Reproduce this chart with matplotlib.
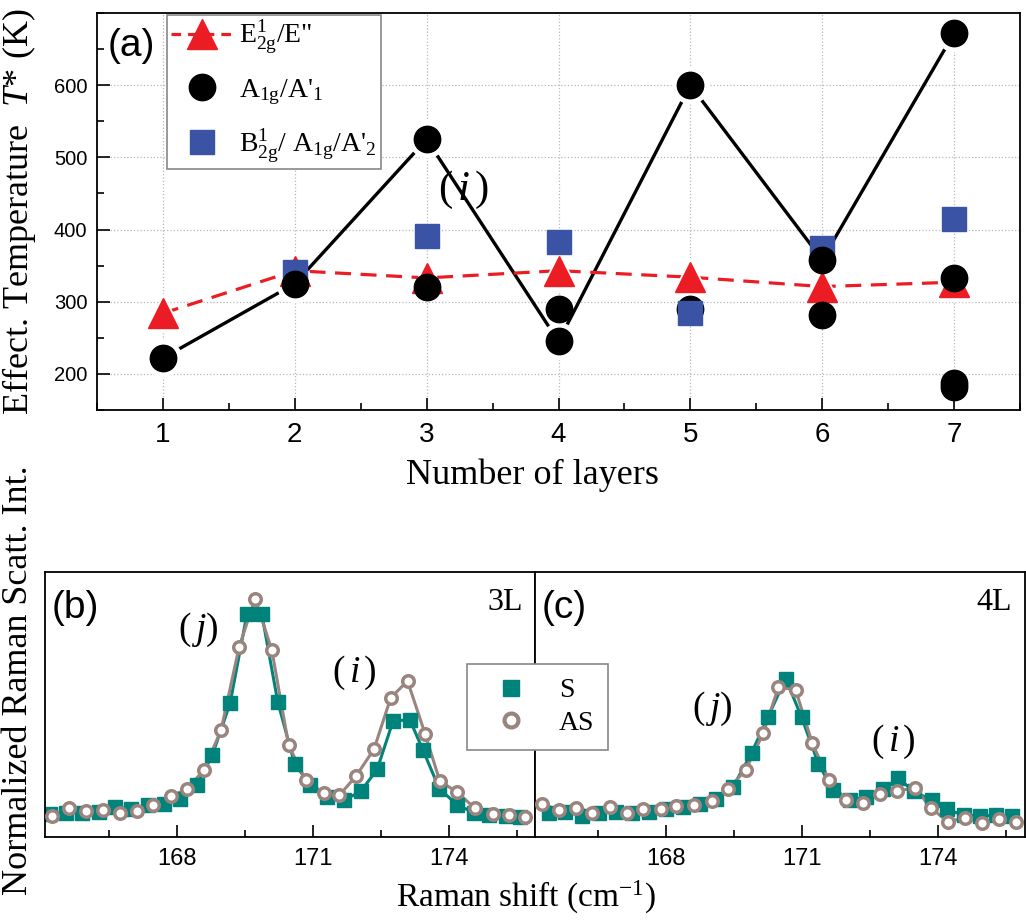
import matplotlib
matplotlib.use('Agg')
import matplotlib.pyplot as plt
from matplotlib.lines import Line2D
from matplotlib.ticker import MultipleLocator, NullLocator

plt.rcParams['font.family'] = ['Liberation Serif', 'DejaVu Serif']
plt.rcParams['mathtext.fontset'] = 'custom'
plt.rcParams['mathtext.rm'] = 'Liberation Serif'
plt.rcParams['mathtext.it'] = 'Liberation Serif:italic'
plt.rcParams['mathtext.bf'] = 'Liberation Serif:bold'
SANS = 'Liberation Sans'

# ---- panel (a): effective temperature vs number of layers ----
layers = [1, 2, 3, 4, 5, 6, 7]
t_e2g = [284, 343, 333, 343, 334, 321, 327]
t_a1g = [222, 325, 525, 245, 600, 358, 672]
extra_layers = [3, 4, 5, 6, 7, 7, 7]
extra_a1g = [320, 290, 290, 282, 333, 188, 182]
b2g_layers = [2, 3, 4, 5, 6, 7]
t_b2g = [341, 391, 383, 285, 374, 414]

# ---- panel (b): 3L Stokes / anti-Stokes spectra ----
s3_x = [165.20, 165.56, 165.92, 166.28, 166.64, 167.00, 167.36, 167.72, 168.08,
        168.44, 168.79, 169.18, 169.55, 169.88, 170.23, 170.60, 170.95, 171.32,
        171.69, 172.06, 172.42, 172.77, 173.14, 173.43, 173.79, 174.19, 174.56,
        174.89, 175.26, 175.56]
s3_y = [0.085, 0.090, 0.092, 0.095, 0.115, 0.105, 0.122, 0.125, 0.145,
        0.195, 0.310, 0.505, 0.840, 0.840, 0.510, 0.277, 0.195, 0.151,
        0.139, 0.172, 0.255, 0.437, 0.443, 0.328, 0.183, 0.120, 0.092,
        0.082, 0.080, 0.075]
as3_x = [165.26, 165.62, 166.01, 166.38, 166.75, 167.12, 167.48, 167.87, 168.22,
         168.60, 168.98, 169.38, 169.73, 170.10, 170.47, 170.85, 171.24, 171.59,
         171.96, 172.35, 172.72, 173.09, 173.48, 173.80, 174.19, 174.58, 174.97,
         175.32, 175.69]
as3_y = [0.079, 0.110, 0.098, 0.103, 0.092, 0.098, 0.122, 0.154, 0.180,
         0.252, 0.403, 0.718, 0.900, 0.705, 0.346, 0.214, 0.166, 0.158,
         0.231, 0.331, 0.525, 0.589, 0.388, 0.212, 0.168, 0.108, 0.088,
         0.082, 0.076]

# ---- panel (c): 4L Stokes / anti-Stokes spectra ----
s4_x = [165.40, 165.77, 166.14, 166.51, 166.88, 167.25, 167.62, 167.99, 168.36,
        168.73, 169.10, 169.47, 169.88, 170.24, 170.63, 170.98, 171.35, 171.68,
        172.04, 172.40, 172.77, 173.12, 173.46, 173.85, 174.19, 174.56, 174.92,
        175.27, 175.63]
s4_y = [0.090, 0.095, 0.080, 0.090, 0.095, 0.090, 0.095, 0.105, 0.115,
        0.125, 0.145, 0.189, 0.318, 0.453, 0.598, 0.453, 0.277, 0.176,
        0.140, 0.150, 0.180, 0.221, 0.172, 0.139, 0.104, 0.082, 0.080,
        0.082, 0.080]
as4_x = [165.26, 165.62, 166.01, 166.36, 166.75, 167.12, 167.48, 167.87, 168.22,
         168.60, 169.00, 169.36, 169.75, 170.14, 170.47, 170.85, 171.22, 171.59,
         171.96, 172.33, 172.72, 173.09, 173.48, 173.83, 174.21, 174.58, 174.97,
         175.34, 175.71]
as4_y = [0.126, 0.101, 0.111, 0.092, 0.113, 0.092, 0.105, 0.107, 0.116,
         0.120, 0.136, 0.180, 0.254, 0.393, 0.566, 0.555, 0.353, 0.214,
         0.141, 0.128, 0.161, 0.174, 0.185, 0.111, 0.057, 0.073, 0.054,
         0.067, 0.057]

RED = '#ec1c24'
BLUE = '#3a53a4'
TEAL = '#00837b'
GREYBROWN = '#9a857e'

W, H = 1026, 924
fig = plt.figure(figsize=(W / 100, H / 100), dpi=100)


def box(l, t, r, b):
    return [l / W, 1 - b / H, (r - l) / W, (b - t) / H]


ax_a = fig.add_axes(box(97, 13, 1020, 410))
ax_b = fig.add_axes(box(45, 572, 535, 837))
ax_c = fig.add_axes(box(535, 572, 1024.5, 837))

# panel (a)
ax_a.plot(layers, t_a1g, color='k', lw=2.4, zorder=1)
ax_a.plot(layers, t_e2g, color=RED, lw=2.3, ls='--', dashes=(5, 3), zorder=1)
ax_a.plot(layers, t_a1g, 'o', ms=26, color='white', zorder=2)
ax_a.plot(layers, t_e2g, '^', ms=27, color='white', zorder=2)
ax_a.plot(layers, t_e2g, '^', ms=22, color=RED, ls='none', zorder=3)
ax_a.plot(extra_layers, extra_a1g, 'o', ms=19, color='k', ls='none', zorder=4)
ax_a.plot(b2g_layers, t_b2g, 's', ms=17, color=BLUE, ls='none', zorder=5)
ax_a.plot(layers, t_a1g, 'o', ms=19, color='k', ls='none', zorder=6)

ax_a.set_xlim(0.5, 7.5)
ax_a.set_ylim(150, 700)
ax_a.xaxis.set_major_locator(MultipleLocator(1))
ax_a.xaxis.set_minor_locator(MultipleLocator(0.5))
ax_a.yaxis.set_minor_locator(MultipleLocator(50))
ax_a.set_yticks([200, 300, 400, 500, 600])
ax_a.grid(True, which='major', color='#b8b8b8', ls=':', lw=0.9)
ax_a.set_axisbelow(True)
ax_a.tick_params(which='both', direction='in', top=False, right=False)
ax_a.tick_params(which='major', length=9, width=1.2)
ax_a.tick_params(which='minor', length=5, width=1.2)
ax_a.tick_params(axis='x', which='major', pad=9)
ax_a.tick_params(axis='y', which='major', pad=7)
for lab in ax_a.get_xticklabels():
    lab.set_fontfamily(SANS)
    lab.set_fontsize(20)
for lab in ax_a.get_yticklabels():
    lab.set_fontfamily(SANS)
    lab.set_fontsize(14.5)
for sp in ax_a.spines.values():
    sp.set_linewidth(1.3)

ax_a.text(0.012, 0.916, '(a)', transform=ax_a.transAxes, family=SANS,
          fontsize=28, ha='left', va='center')
ax_a.text(3.28, 455, r'($\,i\,$)', fontsize=31, ha='center', va='center')

h1 = Line2D([], [], color=RED, lw=2.3, ls='--', dashes=(3, 2.2), marker='^', ms=22)
h2 = Line2D([], [], color='k', ls='none', marker='o', ms=19)
h3 = Line2D([], [], color=BLUE, ls='none', marker='s', ms=17)
leg = ax_a.legend([h1, h2, h3],
                  [r'$\mathrm{E^1_{2g}}$/E"', r"A$_{1\mathrm{g}}$/A'$_1$",
                   r"$\mathrm{B^1_{2g}}$/ A$_{1\mathrm{g}}$/A'$_2$"],
                  loc='upper left', bbox_to_anchor=(0.0758, 0.995),
                  borderaxespad=0, fontsize=20, frameon=True, fancybox=False,
                  edgecolor='#888888', framealpha=1, handlelength=2.2,
                  handletextpad=0.25, labelspacing=0.75, borderpad=0.15)
leg.get_frame().set_linewidth(1.2)

fig.text(532 / W, 1 - 475 / H, 'Number of layers', fontsize=26,
         ha='center', va='center')
fig.text(19 / W, 1 - 212 / H, r'Effect. Temperature  $T$* (K)', fontsize=26,
         rotation=90, ha='center', va='center')
fig.text(19 / W, 1 - 680 / H, 'Normalized Raman Scatt. Int.', fontsize=26,
         rotation=90, ha='center', va='center')
fig.text(526 / W, 1 - 897 / H, r'Raman shift (cm$^{\mathregular{-1}}$)', fontsize=24,
         ha='center', va='center')

# panels (b) and (c)
panels = [
    (ax_b, s3_x, s3_y, as3_x, as3_y, '(b)', '3L',
     [(168.47, 0.78, r'($\,j$)'), (171.91, 0.618, r'($\,i\,$)')]),
    (ax_c, s4_x, s4_y, as4_x, as4_y, '(c)', '4L',
     [(169.0, 0.482, r'($\,j$)'), (173.0, 0.358, r'($\,i\,$)')]),
]
for ax, sx, sy, asx, asy, tag, nl, notes in panels:
    ax.plot(sx, sy, color=TEAL, lw=2.2, zorder=1)
    ax.plot(asx, asy, color=GREYBROWN, lw=2.2, zorder=1)
    ax.plot(sx, sy, 's', ms=9.5, color=TEAL, ls='none', zorder=2)
    ax.plot(asx, asy, 'o', ms=8.3, mfc='white', mec=GREYBROWN, mew=2.5,
            ls='none', zorder=3)
    ax.set_xlim(165.1, 175.9)
    ax.set_ylim(0, 1)
    ax.xaxis.set_major_locator(MultipleLocator(3))
    ax.xaxis.set_minor_locator(MultipleLocator(1.5))
    ax.yaxis.set_major_locator(NullLocator())
    ax.tick_params(which='both', direction='in', top=False, right=False)
    ax.tick_params(which='major', length=9, width=1.2, pad=8)
    ax.tick_params(which='minor', length=5, width=1.2)
    for lab in ax.get_xticklabels():
        lab.set_fontfamily(SANS)
        lab.set_fontsize(17)
    for sp in ax.spines.values():
        sp.set_linewidth(1.3)
    ax.text(0.014, 0.865, tag, transform=ax.transAxes, family=SANS,
            fontsize=28, ha='left', va='center')
    ax.text(0.975, 0.885, nl, transform=ax.transAxes, fontsize=23,
            ha='right', va='center')
    for x, y, s in notes:
        ax.text(x, y, s, fontsize=27, ha='center', va='center')

hs = Line2D([], [], color=TEAL, ls='none', marker='s', ms=12)
has = Line2D([], [], ls='none', marker='o', ms=10, mfc='white', mec=GREYBROWN, mew=3)
leg2 = fig.legend([hs, has], ['S', 'AS'], loc='upper left',
                  bbox_to_anchor=(467 / W, 1 - 664 / H), borderaxespad=0,
                  fontsize=20, frameon=True, fancybox=False, edgecolor='#888888',
                  framealpha=1, handlelength=2.2, handletextpad=0.6,
                  labelspacing=0.25, borderpad=0.5)
leg2.get_frame().set_linewidth(1.2)

fig.savefig('out.png', dpi=100)
